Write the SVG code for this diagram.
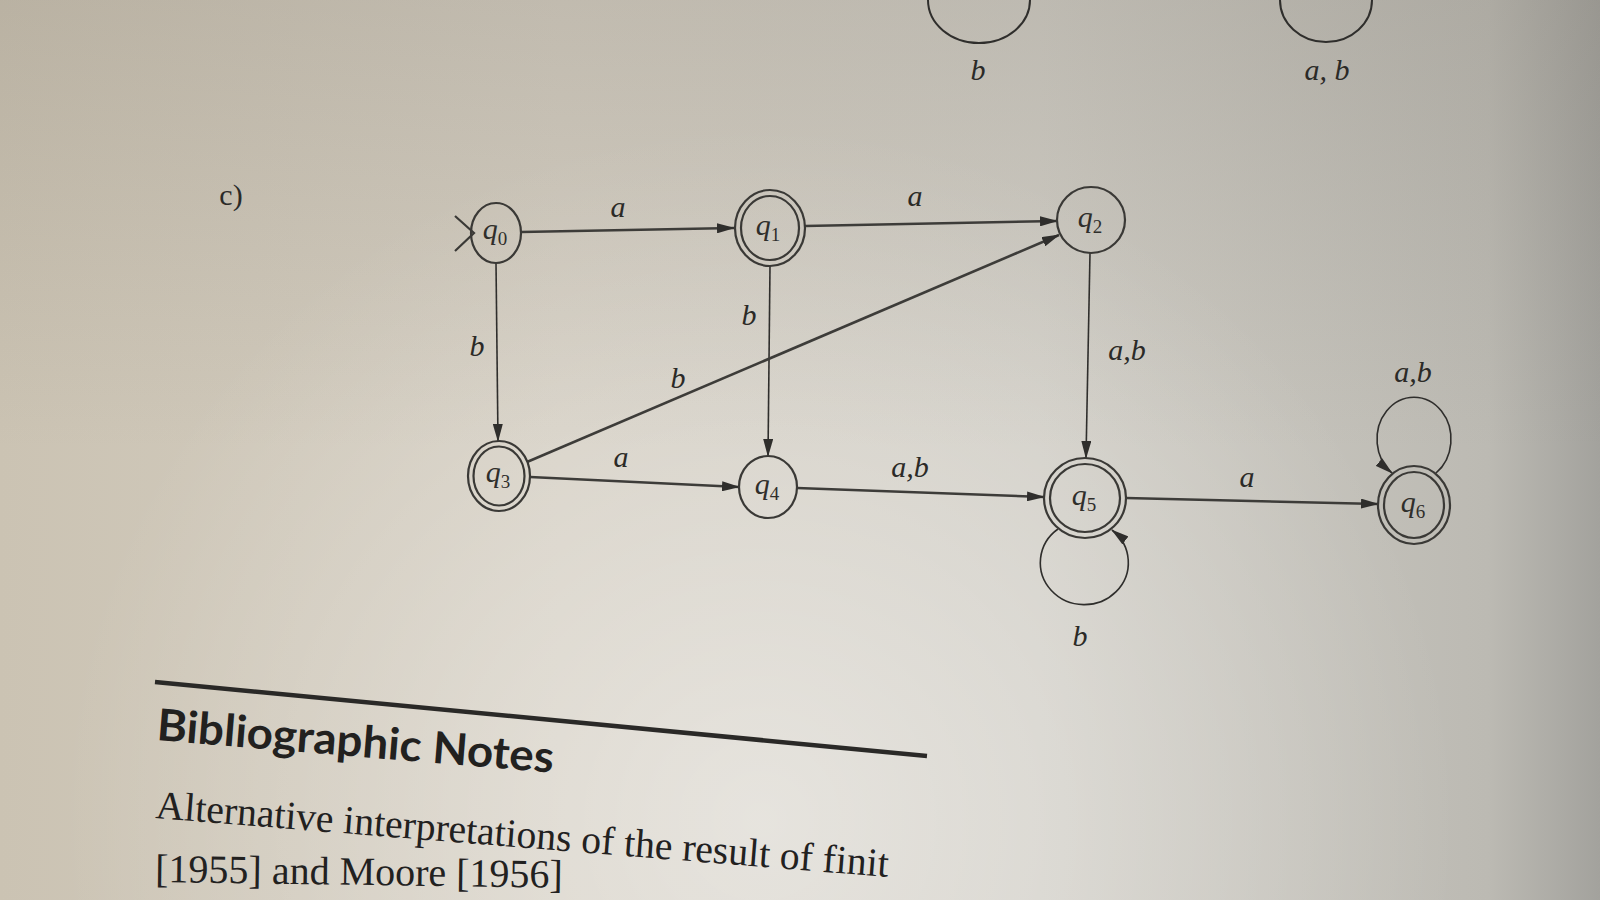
<svg xmlns="http://www.w3.org/2000/svg" width="1600" height="900" viewBox="0 0 1600 900">
<defs>
<linearGradient id="paper" x1="0" y1="0" x2="1" y2="0">
 <stop offset="0" stop-color="#cbc3b3"/>
 <stop offset="0.35" stop-color="#d4cec2"/>
 <stop offset="0.65" stop-color="#d0cdc5"/>
 <stop offset="0.93" stop-color="#bcbab3"/>
 <stop offset="1" stop-color="#a3a29d"/>
</linearGradient>
<radialGradient id="glow" cx="760" cy="820" r="700" gradientUnits="userSpaceOnUse">
 <stop offset="0" stop-color="#ffffff" stop-opacity="0.45"/>
 <stop offset="1" stop-color="#ffffff" stop-opacity="0"/>
</radialGradient>
<linearGradient id="topshade" x1="0" y1="0" x2="0" y2="1">
 <stop offset="0" stop-color="#6b6458" stop-opacity="0.18"/>
 <stop offset="0.5" stop-color="#6b6458" stop-opacity="0"/>
</linearGradient>
<marker id="arr" viewBox="0 0 18 10" refX="17" refY="5" markerWidth="18" markerHeight="10" markerUnits="userSpaceOnUse" orient="auto">
 <path d="M0,0 L18,5 L0,10 z" fill="#2f2e2c"/>
</marker>
<style>
 .st{fill:none;stroke:#3a3936;stroke-width:2.2}
 .e{fill:none;stroke:#3d3c39;stroke-width:2.6;marker-end:url(#arr)}
 .ev{fill:none;stroke:#2f2e2c;stroke-width:1.6;marker-end:url(#arr)}
 .ln{fill:none;stroke:#2f2e2c;stroke-width:2}
 .lbl{font-family:"Liberation Serif",serif;font-style:italic;font-size:30px;fill:#2b2a27;text-anchor:middle}
 .q{font-family:"Liberation Serif",serif;font-style:italic;font-size:30px;fill:#2f2e2b;text-anchor:middle}
 .sub{font-size:19px;font-style:normal}
 .body{font-family:"Liberation Serif",serif;font-size:40px;fill:#22211f}
</style>
</defs>

<rect x="0" y="0" width="1600" height="900" fill="url(#paper)"/>
<rect x="0" y="0" width="1600" height="900" fill="url(#glow)"/>
<rect x="0" y="0" width="1600" height="900" fill="url(#topshade)"/>

<text x="231" y="205" font-family="Liberation Serif, serif" font-size="30" fill="#2b2a27" text-anchor="middle">c)</text>

<g id="connectors">
 <path class="ln" d="M928,0 A51,43 0 0,0 1030,0"/>
 <text class="lbl" x="978" y="80">b</text>
 <path class="ln" d="M1280,0 A46,42 0 0,0 1372,0"/>
 <text class="lbl" x="1327" y="80">a, b</text>

 <path class="e" d="M521,232 L734,228"/>
 <text class="lbl" x="618" y="217">a</text>
 <path class="e" d="M805,226 L1057,221"/>
 <text class="lbl" x="915" y="206">a</text>
 <path class="ev" d="M496,263 L498,441"/>
 <text class="lbl" x="477" y="356">b</text>
 <path class="ev" d="M770,266 L768,456"/>
 <text class="lbl" x="749" y="325">b</text>
 <path class="e" d="M527,462 L1059,235"/>
 <text class="lbl" x="678" y="388">b</text>
 <path class="e" d="M530,477 L739,487"/>
 <text class="lbl" x="621" y="467">a</text>
 <path class="e" d="M797,488 L1044,497"/>
 <text class="lbl" x="910" y="477">a,b</text>
 <path class="ev" d="M1090,253 L1086,458"/>
 <text class="lbl" x="1127" y="360">a,b</text>
 <path class="e" d="M1126,498 L1378,504"/>
 <text class="lbl" x="1247" y="487">a</text>
 <path class="ev" d="M1058,529 A44,42 0 1,0 1112,530"/>
 <text class="lbl" x="1080" y="646">b</text>
 <path class="ev" d="M1436,473 A37,42 0 1,0 1392,473"/>
 <text class="lbl" x="1413" y="382">a,b</text>
</g>

<g id="q0">
 <path class="st" d="M455,216 L474,233 L455,251"/>
 <ellipse class="st" cx="496" cy="233" rx="25" ry="30"/>
 <text class="q" x="495" y="239">q<tspan class="sub" dy="6">0</tspan></text>
</g>
<g id="q1">
 <ellipse class="st" cx="770" cy="228" rx="35" ry="38"/>
 <ellipse class="st" cx="770" cy="228" rx="29" ry="32"/>
 <text class="q" x="768" y="235">q<tspan class="sub" dy="6">1</tspan></text>
</g>
<g id="q2">
 <ellipse class="st" cx="1091" cy="220" rx="34" ry="33"/>
 <text class="q" x="1090" y="227">q<tspan class="sub" dy="6">2</tspan></text>
</g>
<g id="q3">
 <ellipse class="st" cx="499" cy="476" rx="31" ry="35"/>
 <ellipse class="st" cx="499" cy="476" rx="25.5" ry="29.5"/>
 <text class="q" x="498" y="482">q<tspan class="sub" dy="6">3</tspan></text>
</g>
<g id="q4">
 <ellipse class="st" cx="768" cy="487" rx="29" ry="31"/>
 <text class="q" x="767" y="494">q<tspan class="sub" dy="6">4</tspan></text>
</g>
<g id="q5">
 <ellipse class="st" cx="1085" cy="498" rx="41" ry="40"/>
 <ellipse class="st" cx="1085" cy="498" rx="35" ry="34"/>
 <text class="q" x="1084" y="505">q<tspan class="sub" dy="6">5</tspan></text>
</g>
<g id="q6">
 <ellipse class="st" cx="1414" cy="505" rx="36" ry="39"/>
 <ellipse class="st" cx="1414" cy="505" rx="30" ry="33"/>
 <text class="q" x="1413" y="512">q<tspan class="sub" dy="6">6</tspan></text>
</g>

<line x1="155" y1="682" x2="927" y2="756" stroke="#2a2927" stroke-width="4.5"/>
<text transform="translate(156,740) rotate(4.7)" font-family="Lato, 'Open Sans', sans-serif" font-weight="bold" font-size="44" fill="#22211f" textLength="398" lengthAdjust="spacingAndGlyphs">Bibliographic Notes</text>
<text class="body" transform="translate(155,818) rotate(4.6)" font-size="37" textLength="735" lengthAdjust="spacingAndGlyphs">Alternative interpretations of the result of finit</text>
<text class="body" transform="translate(155,882) rotate(0.8)" font-size="30">[1955] and Moore [1956]</text>
</svg>
